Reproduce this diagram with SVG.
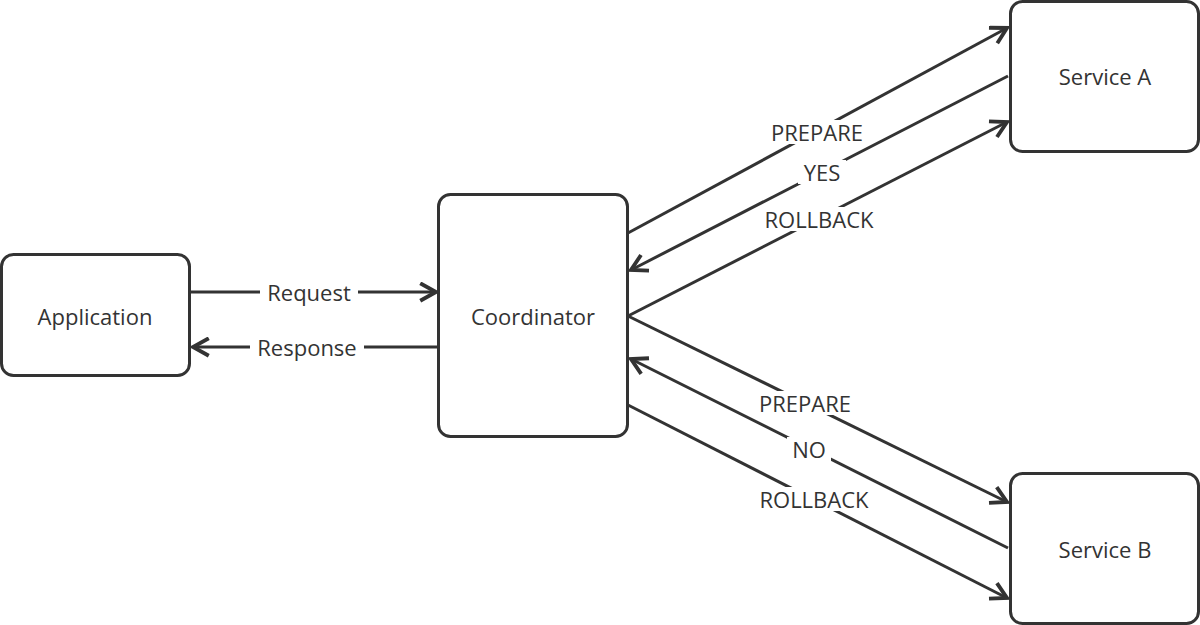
<svg xmlns="http://www.w3.org/2000/svg" width="1200" height="625" viewBox="0 0 1200 625">
<style>
.box{fill:#fff;stroke:#333;stroke-width:3}
.ln{stroke:#333;stroke-width:3;fill:none;marker-end:url(#ah)}
.lb{font-family:"Open Sans",sans-serif;font-size:22px;fill:#333;text-anchor:middle;dominant-baseline:central}
.bg{fill:#fff}
</style>
<defs>
<marker id="ah" viewBox="0 0 12 12" refX="10" refY="6" markerWidth="7" markerHeight="7" orient="auto" markerUnits="strokeWidth">
<path d="M1,1 L10,6 L1,11" fill="none" stroke="#333" stroke-width="2.2" stroke-linejoin="miter"/>
</marker>
</defs>
<rect width="1200" height="625" fill="#fff"/>
<g id="connectors">
<line class="ln" x1="191" y1="292" x2="436" y2="292"/>
<line class="ln" x1="437" y1="347" x2="193" y2="347"/>
<line class="ln" x1="628" y1="233" x2="1007" y2="28"/>
<line class="ln" x1="1008" y1="76" x2="631" y2="270"/>
<line class="ln" x1="628" y1="316" x2="1007" y2="122"/>
<line class="ln" x1="628" y1="316" x2="1007" y2="502"/>
<line class="ln" x1="1008" y1="548" x2="631" y2="359"/>
<line class="ln" x1="628" y1="405" x2="1007" y2="598"/>
<rect class="bg" x="260" y="280" width="98" height="24"/>
<text class="lb" x="309" y="292">Request</text>
<rect class="bg" x="250" y="335" width="114" height="24"/>
<text class="lb" x="307" y="347">Response</text>
<rect class="bg" x="764" y="120" width="106" height="24"/>
<text class="lb" x="817" y="132">PREPARE</text>
<rect class="bg" x="798" y="160" width="48" height="24"/>
<text class="lb" x="822" y="172">YES</text>
<rect class="bg" x="758" y="207" width="122" height="24"/>
<text class="lb" x="819" y="219">ROLLBACK</text>
<rect class="bg" x="752" y="391" width="106" height="24"/>
<text class="lb" x="805" y="403">PREPARE</text>
<rect class="bg" x="787" y="437" width="44" height="24"/>
<text class="lb" x="809" y="449">NO</text>
<rect class="bg" x="753" y="487" width="122" height="24"/>
<text class="lb" x="814" y="499">ROLLBACK</text>
</g>
<g id="application"><rect class="box" x="1.5" y="254.5" width="188" height="121" rx="12"/><text class="lb" x="95" y="316">Application</text></g>
<g id="coordinator"><rect class="box" x="438.5" y="194.5" width="189" height="242" rx="12"/><text class="lb" x="533" y="316">Coordinator</text></g>
<g id="serviceA"><rect class="box" x="1010.5" y="1.5" width="188" height="150" rx="12"/><text class="lb" x="1105" y="76">Service A</text></g>
<g id="serviceB"><rect class="box" x="1010.5" y="473.5" width="188" height="150" rx="12"/><text class="lb" x="1105" y="549">Service B</text></g>
</svg>
